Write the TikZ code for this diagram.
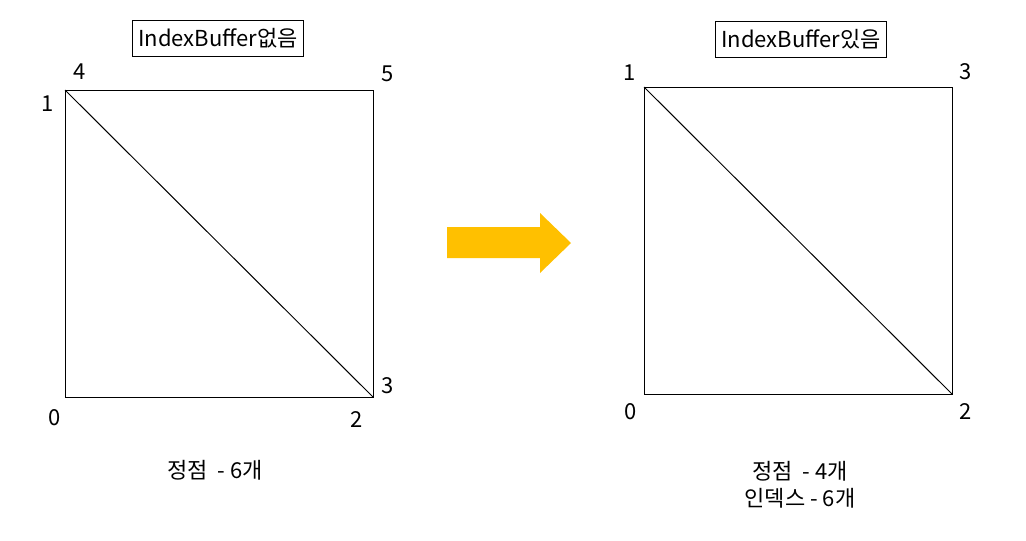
\documentclass[tikz,border=0pt]{standalone}
\usepackage{fontspec}
\setmainfont{Noto Sans CJK KR}
\tikzset{
  titlebox/.style={draw, line width=0.75pt, inner sep=4pt, minimum height=27pt},
  num/.style={inner sep=0pt},
  quad/.style={line width=0.75pt},
}
\definecolor{arrowgold}{RGB}{255,192,0}
\begin{document}
\begin{tikzpicture}[x=0.75pt, y=-0.75pt, font=\fontsize{16.5}{20}\selectfont]
      \useasboundingbox (0,0) rectangle (1026,540);
      % without index buffer
      \coordinate (a0) at (65,397);
      \coordinate (a1) at (65,90);
      \coordinate (a2) at (373,397);
      \coordinate (a3) at (373,90);
      \draw[quad] (a0) -- (a2) -- (a3) -- (a1) -- cycle;
      \draw[quad] (a1) -- (a2);
      \node[titlebox] (titleA) at (218,38) {IndexBuffer없음};
      \draw
        (80,72) node[num] (l4){4}
        (388,74) node[num] (l5){5}
        (48,104) node[num] (l1){1}
        (55,418) node[num] (l0){0}
        (357,420) node[num] (l2){2}
        (388,386) node[num] (l3){3};
      \node (countA) at (215,470) {정점\ \ -\ 6개};
      % arrow
      \fill[arrowgold] (447,227) -- (540,227) -- (540,213) -- (571,243)
        -- (540,273) -- (540,258) -- (447,258) -- cycle;
      % with index buffer
      \coordinate (b0) at (644,394);
      \coordinate (b1) at (644,87);
      \coordinate (b2) at (952,394);
      \coordinate (b3) at (952,87);
      \draw[quad] (b0) -- (b2) -- (b3) -- (b1) -- cycle;
      \draw[quad] (b1) -- (b2);
      \node[titlebox] (titleB) at (801,39) {IndexBuffer있음};
      \draw
        (630,73) node[num] (r1){1}
        (966,72) node[num] (r3){3}
        (631,412) node[num] (r0){0}
        (966,412) node[num] (r2){2};
      \node[align=center] (countB) at (800,485) {정점\ \ -\ 4개\\인덱스\ -\ 6개};
    \end{tikzpicture}
\end{document}
